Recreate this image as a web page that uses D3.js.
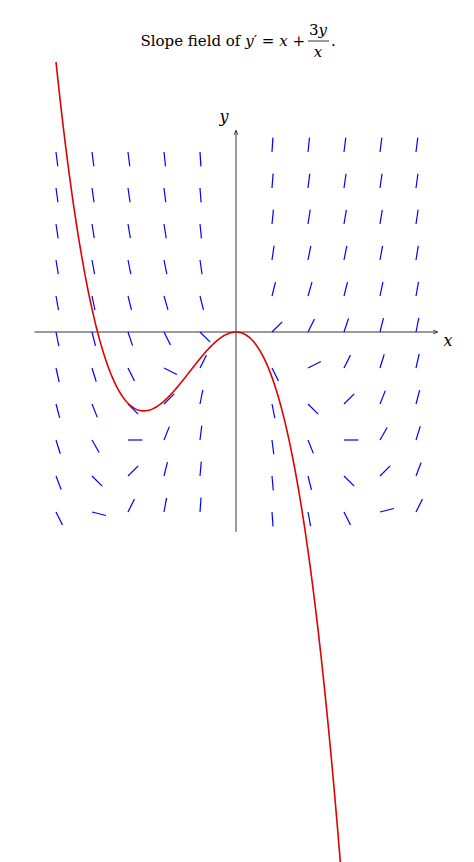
<!DOCTYPE html>
<html><head><meta charset="utf-8">
<script src="https://cdn.jsdelivr.net/npm/d3@7"></script>
<style>body{margin:0;background:#fff}</style></head>
<body><svg id="c" width="474" height="862"></svg>
<script>
const xGrid=[-5,-4,-3,-2,-1,1,2,3,4,5];
const yGrid=[-5,-4,-3,-2,-1,0,1,2,3,4,5];
const C=-0.26; // solution y = -x^2 + C x^3
const curveX=d3.range(-5.0,3.2,0.02);
const svg=d3.select("#c");
const x=d3.scaleLinear().domain([0,1]).range([236,272]);
const y=d3.scaleLinear().domain([0,1]).range([332,296]);
const f="DejaVu Serif, Liberation Serif, serif";
const mk=svg.append("defs").append("marker").attr("id","ar").attr("viewBox","0 0 10 10").attr("refX",9).attr("refY",5)
 .attr("markerWidth",7).attr("markerHeight",7).attr("orient","auto-start-reverse");
mk.append("path").attr("d","M1,1.5 L9,5 L1,8.5").attr("fill","none").attr("stroke","#000").attr("stroke-width",1.2);
svg.append("line").attr("x1",x(-5.6)).attr("x2",x(5.6)).attr("y1",y(0)).attr("y2",y(0)).attr("stroke","#000").attr("stroke-width",0.8).attr("marker-end","url(#ar)");
svg.append("line").attr("x1",x(0)).attr("x2",x(0)).attr("y1",y(-5.55)).attr("y2",y(5.6)).attr("stroke","#000").attr("stroke-width",0.8).attr("marker-end","url(#ar)");
svg.append("text").attr("x",448).attr("y",346).attr("text-anchor","middle").attr("font-family",f).attr("font-style","italic").attr("font-size",16).text("x");
svg.append("text").attr("x",224).attr("y",122).attr("text-anchor","middle").attr("font-family",f).attr("font-style","italic").attr("font-size",16).text("y");
const L=0.4, pts=[];
xGrid.forEach(a=>yGrid.forEach(b=>pts.push([a,b])));
svg.selectAll(".s").data(pts).enter().append("line")
 .each(function(d){const m=d[0]+3*d[1]/d[0];const n=Math.hypot(1,m);const dx=L/n,dy=m*L/n;
  d3.select(this).attr("x1",x(d[0])).attr("y1",y(d[1])).attr("x2",x(d[0]+dx)).attr("y2",y(d[1]+dy));})
 .attr("stroke","#0000ff").attr("stroke-width",1.2);
svg.append("path").datum(curveX).attr("d",d3.line().x(t=>x(t)).y(t=>y(-t*t+C*t*t*t)))
 .attr("fill","none").attr("stroke","#e00000").attr("stroke-width",1.6);
const g=svg.append("g").attr("font-family",f).attr("font-size",15);
g.append("text").attr("x",305).attr("y",46).attr("text-anchor","end").html('Slope field of <tspan font-style="italic">y</tspan>′ = <tspan font-style="italic">x</tspan> +');
g.append("text").attr("x",318).attr("y",35).attr("text-anchor","middle").html('3<tspan font-style="italic">y</tspan>');
g.append("line").attr("x1",308).attr("x2",329).attr("y1",41).attr("y2",41).attr("stroke","#000").attr("stroke-width",0.8);
g.append("text").attr("x",318).attr("y",57).attr("text-anchor","middle").attr("font-style","italic").text("x");
g.append("text").attr("x",331).attr("y",46).text(".");
</script></body></html>
